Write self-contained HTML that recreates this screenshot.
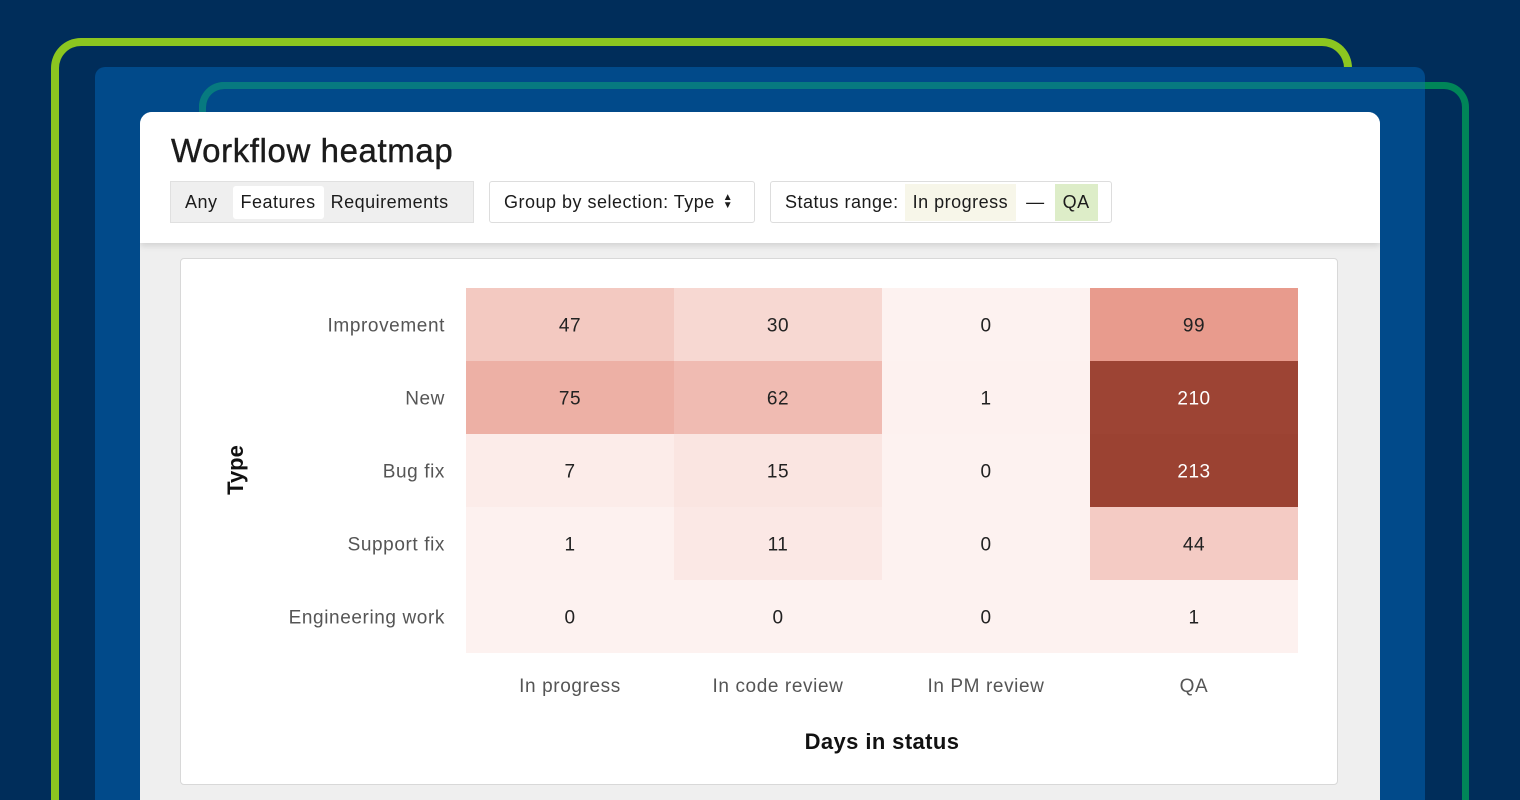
<!DOCTYPE html>
<html><head><meta charset="utf-8"><style>
*{box-sizing:border-box;margin:0;padding:0}
html,body{width:1520px;height:800px;overflow:hidden}
body{background:#002d5a;position:relative;font-family:"Liberation Sans",sans-serif}
.abs{position:absolute}
.hdr-btn{position:absolute;top:181px;height:42px;font-size:18px;color:#1b1b1b;display:flex;align-items:center;letter-spacing:0.5px}
</style></head><body>
<div class="abs" style="left:51px;top:38px;width:1301px;height:762px;border:8px solid #8cc620;border-bottom:none;border-radius:30px 30px 0 0"></div>
<div class="abs" style="left:95px;top:67px;width:1330px;height:733px;background:#014a8a;border-radius:10px 10px 0 0"></div>
<div class="abs" style="left:199px;top:82px;width:1270px;height:718px;border:7px solid #008558;border-bottom:none;border-radius:25px 25px 0 0"></div>
<div class="abs" style="left:199px;top:82px;width:1226px;height:718px;border:7px solid #077a80;border-right:none;border-bottom:none;border-radius:25px 0 0 0"></div>
<div class="abs" style="left:140px;top:112px;width:1240px;height:688px;background:#efefef;border-radius:12px 12px 0 0;overflow:hidden">
  <div class="abs" style="left:0;top:0;width:1240px;height:131px;background:#fff;box-shadow:0 3px 6px rgba(0,0,0,0.12)"></div>
</div>
<div class="abs" style="left:171px;top:132px;font-size:33px;color:#1b1b1b;letter-spacing:0.6px;-webkit-text-stroke:0.4px #1b1b1b">Workflow heatmap</div>
<div class="hdr-btn" style="left:170px;width:304px;background:#efefef;border:1px solid #e0e0e0">
  <span style="margin-left:14px">Any</span>
  <span style="margin-left:15px;background:#fff;padding:6px 8px;border-radius:3px">Features</span>
  <span style="margin-left:7px">Requirements</span>
</div>
<div class="hdr-btn" style="left:489px;width:266px;border:1px solid #ddd;border-radius:3px;background:#fff;padding-left:14px">Group by selection: Type <span style="font-size:10px;margin-left:8px;line-height:8px">▲<br>▼</span></div>
<div class="hdr-btn" style="left:770px;width:342px;border:1px solid #ddd;border-radius:3px;background:#fff;padding-left:14px">Status range:
  <span style="margin-left:6px;background:#f7f6e9;padding:8px 8px">In progress</span>
  <span style="margin:0 10px">—</span>
  <span style="background:#ddedc8;padding:8px 8px">QA</span>
</div>
<div class="abs" style="left:180px;top:258px;width:1158px;height:527px;background:#fff;border:1px solid #d8d8d8;border-radius:4px"></div>
<svg class="abs" style="left:0;top:0" width="1520" height="800" id="hm"></svg>
<script>
const rows=["Improvement","New","Bug fix","Support fix","Engineering work"];
const cols=["In progress","In code review","In PM review","QA"];
const colInProgress=[47,75,7,1,0];
const colCodeReview=[30,62,15,11,0];
const colPMReview=[0,1,0,0,0];
const colQA=[99,210,213,44,1];
const series=[colInProgress,colCodeReview,colPMReview,colQA];
const NS="http://www.w3.org/2000/svg";
const svg=document.getElementById('hm');
const x0=466,cw=208,y0=288,rh=73;
const xPos=i=>x0+i*cw, yPos=j=>y0+j*rh;
function lerp(a,b,t){return a.map((v,i)=>Math.round(v+(b[i]-v)*t));}
function color(v){const c0=[253,242,240],c1=[232,154,140],c2=[155,66,50];
 const c=v<=100?lerp(c0,c1,v/100):lerp(c1,c2,Math.min(1,(v-100)/113));return `rgb(${c})`;}
function mk(tag,attrs){const e=document.createElementNS(NS,tag);for(const k in attrs)e.setAttribute(k,attrs[k]);svg.appendChild(e);return e;}
const F='Liberation Sans, sans-serif';
series.forEach((s,i)=>s.forEach((v,j)=>{
 const r=mk('rect',{x:xPos(i),y:yPos(j),width:cw,height:rh,fill:color(v)});
 
 
 const t=mk('text',{x:xPos(i)+cw/2,y:yPos(j)+rh/2+7,'text-anchor':'middle','font-size':19,'letter-spacing':0.5,fill:v>150?'#fff':'#222','font-family':F});
 t.textContent=v;
 
 
}));
rows.forEach((r,j)=>{const t=mk('text',{x:445,y:yPos(j)+rh/2+7,'text-anchor':'end','font-size':19,'letter-spacing':0.6,fill:'#555','font-family':F});t.textContent=r;
 
 });
cols.forEach((c,i)=>{const t=mk('text',{x:xPos(i)+cw/2,y:692,'text-anchor':'middle','font-size':19,'letter-spacing':0.6,fill:'#555','font-family':F});t.textContent=c;
 
 });
const xt=mk('text',{x:882,y:749,'text-anchor':'middle','font-size':22,'font-weight':'bold','letter-spacing':0.4,fill:'#111','font-family':F});xt.textContent='Days in status';


const yt=mk('text',{x:0,y:0,transform:'translate(243,470) rotate(-90)','text-anchor':'middle','font-size':22,'font-weight':'bold',fill:'#111','font-family':F});yt.textContent='Type';


</script>
</body></html>
